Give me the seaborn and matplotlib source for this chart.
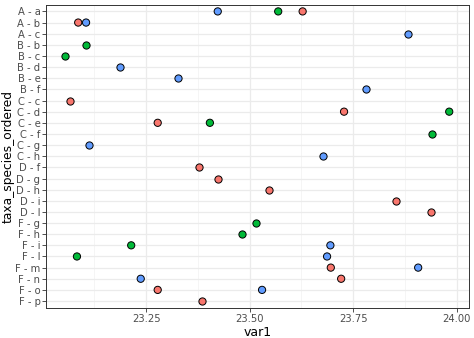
import matplotlib
matplotlib.use("Agg")
import matplotlib.pyplot as plt
import seaborn as sns
import pandas as pd
from matplotlib.ticker import MultipleLocator

categories = ["A - a", "A - b", "A - c", "B - b", "B - c", "B - d", "B - e", "B - f",
              "C - c", "C - d", "C - e", "C - f", "C - g", "C - h",
              "D - f", "D - g", "D - h", "D - i", "D - l",
              "F - g", "F - h", "F - i", "F - l", "F - m", "F - n", "F - o", "F - p"]

point_taxa = ["A - a", "A - a", "A - a", "A - b", "A - b", "A - c", "B - b", "B - c",
              "B - d", "B - e", "B - f", "C - c", "C - d", "C - d", "C - e", "C - e",
              "C - f", "C - g", "C - h", "D - f", "D - g", "D - h", "D - i", "D - l",
              "F - g", "F - h", "F - i", "F - i", "F - l", "F - l", "F - m", "F - m",
              "F - n", "F - n", "F - o", "F - o", "F - p"]
point_var1 = [23.423, 23.569, 23.628, 23.086, 23.105, 23.882, 23.105, 23.054,
              23.188, 23.326, 23.781, 23.067, 23.728, 23.982, 23.278, 23.404,
              23.940, 23.111, 23.677, 23.378, 23.424, 23.547, 23.853, 23.938,
              23.516, 23.481, 23.214, 23.695, 23.083, 23.687, 23.696, 23.907,
              23.237, 23.721, 23.278, 23.530, 23.386]
point_group = ["3", "2", "1", "1", "3", "3", "2", "2",
               "3", "3", "3", "1", "1", "2", "1", "2",
               "2", "3", "3", "1", "1", "1", "1", "1",
               "2", "2", "2", "3", "2", "3", "1", "3",
               "3", "1", "1", "3", "1"]

palette = {"1": "#F8766D", "2": "#00BA38", "3": "#619CFF"}

df = pd.DataFrame({"taxa_species_ordered": point_taxa, "var1": point_var1, "group": point_group})

fig = plt.figure(figsize=(4.74, 3.38), dpi=100)
ax = fig.add_axes([0.0977, 0.0896, 0.8911, 0.8964])

sns.stripplot(data=df, x="var1", y="taxa_species_ordered", hue="group", order=categories,
              palette=palette, jitter=False, dodge=False, size=5.2, linewidth=0.7,
              edgecolor="black", legend=False, ax=ax, zorder=3)

ax.set_xlim(23.009, 24.029)
ax.set_ylim(len(categories) - 1 + 0.6, -0.6)
ax.set_xticks([23.25, 23.5, 23.75, 24.0])
ax.set_xticklabels(["23.25", "23.50", "23.75", "24.00"])
ax.xaxis.set_minor_locator(MultipleLocator(0.125))
ax.set_axisbelow(True)
ax.grid(True, which="major", color="#EBEBEB", linewidth=0.9)
ax.grid(True, which="minor", axis="x", color="#F2F2F2", linewidth=0.5)
ax.tick_params(axis="both", which="major", labelsize=7.2, labelcolor="#4D4D4D",
               color="#333333", length=2.7, width=0.6, pad=1.5)
ax.tick_params(axis="x", which="minor", length=0)
for s in ax.spines.values():
    s.set_color("#333333")
    s.set_linewidth(0.7)
ax.set_xlabel("var1", fontsize=9, color="black", labelpad=2)
ax.set_ylabel("taxa_species_ordered", fontsize=8.8, color="black")
ax.yaxis.set_label_coords(-0.074, 0.5)

fig.savefig("out.png", dpi=100)
